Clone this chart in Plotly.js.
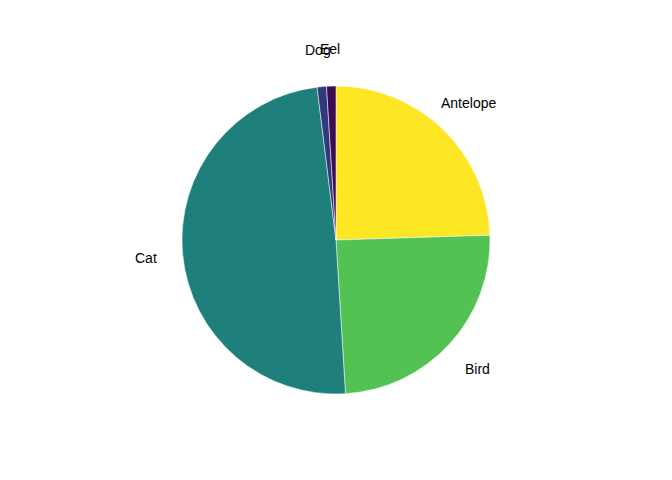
<!DOCTYPE html>
<html>
<head>
<meta charset="utf-8">
<script src="https://cdn.plot.ly/plotly-3.0.1.min.js"></script>
<style>html,body{margin:0;padding:0;background:#fff;}#chart{width:672px;height:480px;}</style>
</head>
<body>
<div id="chart"></div>
<script>
var categories = ["Antelope", "Bird", "Cat", "Dog", "Eel"];
var values = [25, 25, 50, 1, 1];
var colors = ["#fde725", "#52c253", "#1f807b", "#31397c", "#3d0b50"];

var W = 672, H = 480;
var cx = 336, cy = 240, R = 154;
var domainX = [(cx - R) / W, (cx + R) / W];
var domainY = [(H - cy - R) / H, (H - cy + R) / H];

var total = values.reduce(function (a, b) { return a + b; }, 0);
var annotations = [];
var start = 90;
for (var i = 0; i < values.length; i++) {
  var span = values[i] / total * 360;
  var mid = (start - span / 2) * Math.PI / 180;
  start -= span;
  var rr = 1.24 * R;
  annotations.push({
    text: categories[i],
    x: (cx + rr * Math.cos(mid)) / W,
    y: (H - cy + rr * Math.sin(mid)) / H,
    xref: "paper", yref: "paper",
    xanchor: "center", yanchor: "middle",
    showarrow: false,
    font: {family: "Liberation Sans, Arial, sans-serif", size: 14, color: "#000"}
  });
}

var data = [{
  type: "pie",
  labels: categories,
  values: values,
  sort: false,
  direction: "clockwise",
  rotation: 0,
  textinfo: "none",
  hoverinfo: "label+value",
  marker: {colors: colors, line: {color: "#ffffff", width: 0.5}},
  domain: {x: domainX, y: domainY},
  showlegend: false
}];

var layout = {
  width: W, height: H,
  margin: {l: 0, r: 0, t: 0, b: 0},
  paper_bgcolor: "#fff",
  showlegend: false,
  annotations: annotations
};

Plotly.newPlot("chart", data, layout, {displayModeBar: false, staticPlot: true});
</script>
</body>
</html>
